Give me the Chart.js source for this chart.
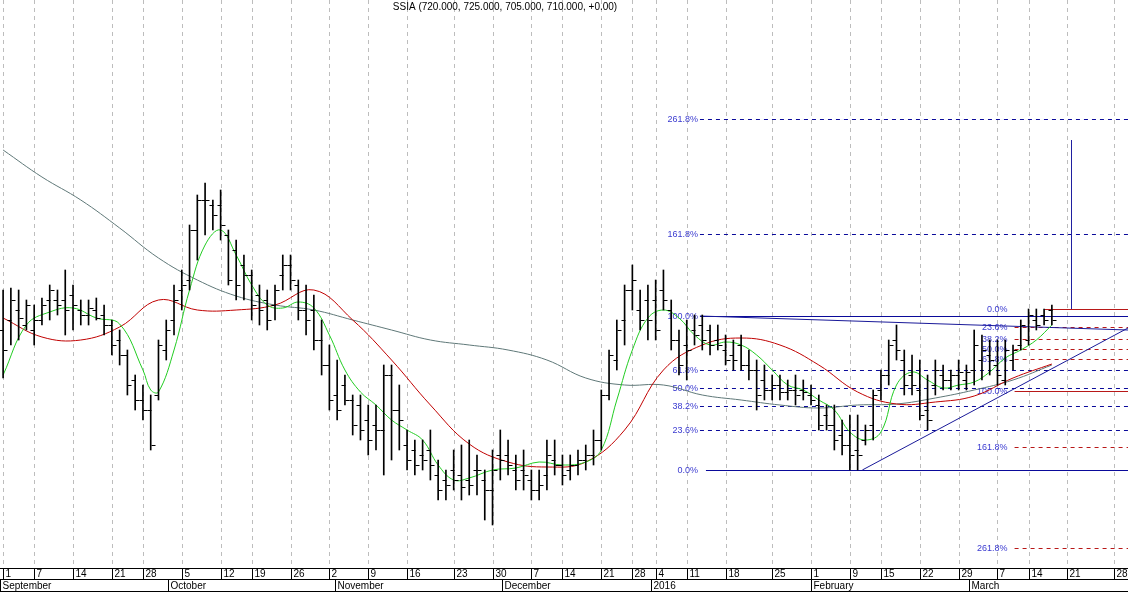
<!DOCTYPE html>
<html><head><meta charset="utf-8">
<script src="https://cdn.jsdelivr.net/npm/chart.js@4/dist/chart.umd.min.js"></script>
<style>html,body{margin:0;padding:0;background:#fff}#wrap{width:1128px;height:592px}</style>
</head><body><div id="wrap"><canvas id="c" width="1128" height="592"></canvas></div>
<script>
const title = "SSIA (720.000, 725.000, 705.000, 710.000, +0.00)";
const highs = [740,742,740,730,725,732,745,740,760,745,730,730,732,725,710,700,680,655,645,635,690,710,745,760,805,835,847,830,840,800,790,775,760,745,740,745,775,775,750,745,735,710,685,670,655,635,635,625,625,665,665,645,600,590,590,600,570,560,580,585,590,575,560,580,600,590,575,580,560,560,590,590,575,575,580,585,600,640,680,710,745,765,740,745,750,760,730,700,710,715,715,705,705,695,690,695,680,670,665,655,655,650,655,650,645,635,625,625,610,615,615,605,640,660,690,705,680,675,670,655,670,665,660,670,665,700,695,690,690,690,685,710,721,721,721,725];
const lows  = [652,685,690,700,685,705,710,715,695,700,705,705,710,695,675,665,635,620,610,580,630,670,695,720,740,770,795,800,790,745,730,730,710,705,700,710,740,740,710,695,680,655,620,610,625,595,590,575,580,555,570,580,560,555,560,550,530,530,540,530,535,535,510,505,550,555,540,540,530,530,540,555,545,550,555,560,565,580,630,660,685,720,700,690,690,720,680,655,650,685,680,675,680,665,660,660,650,620,630,630,630,630,625,630,625,600,600,580,575,560,560,585,590,630,645,670,635,635,610,600,635,640,640,640,640,645,650,655,645,645,660,680,685,700,705,705];
const opens = [700,710,720,705,700,710,730,730,730,735,720,715,720,715,705,690,675,650,630,620,635,680,710,740,750,800,830,825,825,795,780,765,755,735,730,725,755,765,745,720,720,690,665,635,645,630,625,610,605,600,655,620,585,580,575,580,555,550,560,555,550,560,550,540,575,575,560,560,550,540,555,570,565,560,565,570,575,590,635,670,710,740,720,730,730,740,720,690,685,700,705,700,690,680,675,685,665,660,650,640,645,638,640,640,635,625,615,605,595,585,580,590,605,640,655,690,670,655,640,620,645,655,650,655,650,660,670,675,665,650,670,685,690,710,715,720];
const closes= [680,730,712,725,710,725,740,725,720,725,715,722,712,705,685,675,645,630,620,585,685,700,730,745,800,830,830,815,805,750,745,755,725,720,710,740,765,750,720,710,690,665,630,620,630,605,600,590,600,655,620,610,570,565,570,565,540,545,550,543,545,560,540,560,570,565,550,555,540,545,575,565,555,565,570,575,590,635,675,700,740,750,710,710,700,730,690,665,680,695,690,685,685,670,670,665,660,635,640,645,638,640,635,638,630,605,605,590,585,575,575,600,635,655,685,680,645,645,615,610,660,650,655,658,658,685,680,670,655,680,680,705,715,705,710,710];
const maIdx   = [0,5,10,15,20,25,30,35,40,45,50,55,60,65,70,75,80,85,90,95,100,105,110,115,120,125,130,135];
const maMid   = [712,693,690,703,730,720,720,725,740,710,670,625,586,568,563,568,600,660,685,692,685,665,638,626,628,634,652,666];
const maLong  = [880,853,830,802,772,750,734,725,720,710,700,690,685,680,670,652,645,645,635,630,625,622,625,626,632,640,650,665];
const shortIdx = [0,3,6,9,12,15,18,19,20,22,24,26,28,30,32,34,36,38,40,42,44,46,48,50,52,54,56,58,60,63,66,69,72,75,77,79,81,83,85,87,89,91,93,95,97,99,101,103,105,107,109,111,113,115,117,119,121,123,125,127,129,131,133,135];
const maShort  = [655,705,718,722,712,706,660,640,638,680,740,785,800,775,745,725,722,728,722,695,660,638,625,610,600,590,565,550,552,560,562,568,565,568,580,630,680,712,720,712,695,685,688,685,675,660,645,640,630,620,598,590,598,645,658,650,642,645,648,658,672,680,690,705];
const weekTickIdx = [0,4,9,14,18,23,28,32,37,42,47,52,58,63,68,72,77,81,84,88,93,99,104,109,113,118,123,128,132,137,143];
const weekTickLbl = ["1","7","14","21","28","5","12","19","26","2","9","16","23","30","7","14","21","28","4","11","18","25","1","9","15","22","29","7","14","21","28"];
const monthIdx = [-0.4,21.2,42.7,64.2,83.4,104,124.3];
const monthLbl = ["September","October","November","December","2016","February","March"];
const fibA = [911,796,714,660,642,624,600,560];
const fibALbl = ["261.8%","161.8%","100.0%","61.8%","50.0%","38.2%","23.6%","0.0%"];
const fibB = [721,703,691,681,671,639,583,482];
const fibBLbl = ["0.0%","23.6%","38.2%","50.0%","61.8%","100.0%","161.8%","261.8%"];
const trendLines = [[89.7,714,144.8,700],[110.6,560,144.8,702]];
const spike = [137.5,890,721];

const ohlcBars = highs.map((h,i)=>({x:i,y:[lows[i],h]}));
const toPts = (idx,arr) => idx.map((x,i)=>({x,y:arr[i]}));

const decor = {
  id:'decor',
  beforeDatasetsDraw(ch){
    const c=ch.ctx,xs=ch.scales.x,ys=ch.scales.y;
    c.save();
    c.strokeStyle='#bdbdbd';c.lineWidth=1;c.setLineDash([4,4]);
    weekTickIdx.forEach(t=>{const x=Math.round(xs.getPixelForValue(t))+0.5;c.beginPath();c.moveTo(x,0);c.lineTo(x,568);c.stroke();});
    c.setLineDash([]);
    c.font='10px Arial';c.fillStyle='#000';c.textAlign='center';c.textBaseline='middle';
    c.fillText(title,505,7);
    c.font='9px Arial';
    fibA.forEach((v,i)=>{
      const y=Math.round(ys.getPixelForValue(v))+0.5, x0=xs.getPixelForValue(89.7);
      c.strokeStyle='#0a0a9a';c.lineWidth=1;
      c.setLineDash((i===2||i===7)?[]:[4,4]);
      c.beginPath();c.moveTo(x0+((i===7)?6:0),y);c.lineTo(1128,y);c.stroke();
      c.fillStyle='#3a3ad0';c.textAlign='right';c.fillText(fibALbl[i],x0-2,y);
    });
    fibB.forEach((v,i)=>{
      const y=Math.round(ys.getPixelForValue(v))+0.5, x0=xs.getPixelForValue(130.2);
      c.strokeStyle='#b81818';
      const solid=(i===0||i===5);
      c.setLineDash(solid?[]:[4,4]);
      c.beginPath();c.moveTo(solid&&i===0?xs.getPixelForValue(134.1):x0,y);c.lineTo(1128,y);c.stroke();
      c.fillStyle='#3a3ad0';c.textAlign='right';c.fillText(fibBLbl[i],x0-7,y);
    });
    c.setLineDash([]);c.strokeStyle='#1a1a99';
    trendLines.forEach(t=>{c.beginPath();c.moveTo(xs.getPixelForValue(t[0]),ys.getPixelForValue(t[1]));c.lineTo(xs.getPixelForValue(t[2]),ys.getPixelForValue(t[3]));c.stroke();});
    const sx=Math.round(xs.getPixelForValue(spike[0]))+0.5;
    c.strokeStyle='#2020a0';c.beginPath();c.moveTo(sx,ys.getPixelForValue(spike[1]));c.lineTo(sx,ys.getPixelForValue(spike[2]));c.stroke();
    c.restore();
  },
  afterDatasetsDraw(ch){
    const c=ch.ctx,xs=ch.scales.x,ys=ch.scales.y;
    c.save();c.strokeStyle='#000';c.lineWidth=1;
    opens.forEach((o,i)=>{
      const x=Math.round(xs.getPixelForValue(i))+0.5;
      const yo=Math.round(ys.getPixelForValue(o))+0.5, yc=Math.round(ys.getPixelForValue(closes[i]))+0.5;
      c.beginPath();c.moveTo(x-4,yo);c.lineTo(x,yo);c.moveTo(x,yc);c.lineTo(x+4,yc);c.stroke();
    });
    c.fillStyle='#fff';c.fillRect(0,568,1128,24);
    c.strokeStyle='#000';
    c.beginPath();c.moveTo(0,568.5);c.lineTo(1128,568.5);c.moveTo(0,579.5);c.lineTo(1128,579.5);c.moveTo(0,591.5);c.lineTo(1128,591.5);c.stroke();
    c.font='10px Arial';c.fillStyle='#000';c.textAlign='left';c.textBaseline='middle';
    weekTickIdx.forEach((t,i)=>{const x=Math.max(0.5,Math.round(xs.getPixelForValue(t))+0.5);c.beginPath();c.moveTo(x,568);c.lineTo(x,580);c.stroke();c.fillText(weekTickLbl[i],x+2,574.5);});
    monthIdx.forEach((t,i)=>{const x=Math.max(0.5,Math.round(xs.getPixelForValue(t))+0.5);c.beginPath();c.moveTo(x,580);c.lineTo(x,592);c.stroke();c.fillText(monthLbl[i],x+2,586.5);});
    c.restore();
  }
};

new Chart(document.getElementById('c'),{
  data:{datasets:[
    {type:'line',data:toPts(maIdx,maLong),borderColor:'#5f7878',borderWidth:1,pointRadius:0,tension:0.4,order:3},
    {type:'line',data:toPts(maIdx,maMid),borderColor:'#c00000',borderWidth:1,pointRadius:0,tension:0.4,order:2},
    {type:'line',data:toPts(shortIdx,maShort),borderColor:'#22cc22',borderWidth:1,pointRadius:0,tension:0.4,order:1},
    {type:'bar',data:ohlcBars,backgroundColor:'#000',barThickness:1,order:0}
  ]},
  options:{responsive:false,animation:false,events:[],
    layout:{padding:{left:0,right:0,top:0,bottom:24}},
    plugins:{legend:{display:false},tooltip:{enabled:false},title:{display:false}},
    scales:{
      x:{type:'linear',display:false,min:-0.4,max:144.8,offset:false},
      y:{type:'linear',display:false,min:462,max:1030}
    }},
  plugins:[decor]
});
</script></body></html>
